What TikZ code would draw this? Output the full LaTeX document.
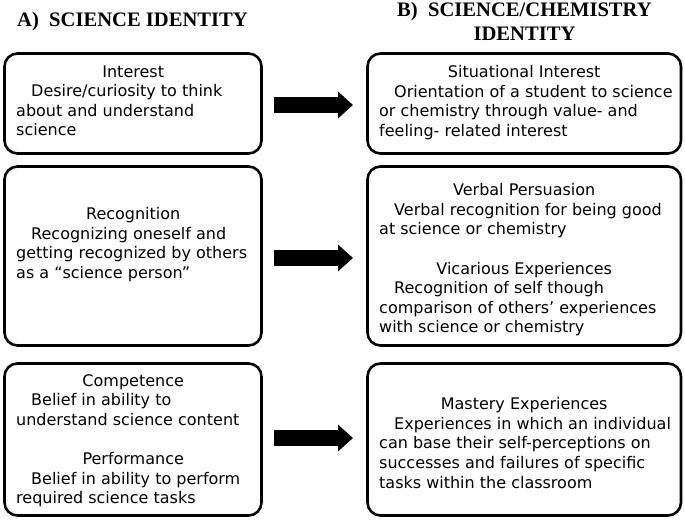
\documentclass[tikz,border=0pt]{standalone}
\usepackage{fontspec}
\setmainfont{DejaVu Sans}
\newfontfamily\titlefont{Liberation Serif}
\usetikzlibrary{arrows.meta}
\newcommand\HL[1]{\makebox[234pt][c]{#1}}
\newcommand\HR[1]{\makebox[290pt][c]{#1}}
\newcommand\IND{\hspace*{15pt}}
\tikzset{
  box/.style={draw, line width=2.6pt, rounded corners=13pt, inner sep=0pt, outer sep=0pt},
  txt/.style={inner sep=0pt, align=left, anchor=north west, font=\fontsize{16}{19.6}\selectfont},
  ttl/.style={inner sep=0pt, font=\titlefont\bfseries\fontsize{20.6}{24}\selectfont},
  bigarrow/.style={line width=16pt, -{Triangle[length=15pt,width=26pt]}, shorten <=12.5pt, shorten >=14.5pt}
}
\begin{document}
\begin{tikzpicture}[x=1pt,y=-1pt]
\useasboundingbox (0,0) rectangle (685,521);
% titles
\node[ttl, anchor=base west] (ta) at (17,27) {A)\ \ SCIENCE IDENTITY};
\node[ttl, align=center, anchor=north] (tb) at (524.5,2.4) {B)\ \ SCIENCE/CHEMISTRY\\IDENTITY};
% boxes
\node[box, minimum width=257pt, minimum height=100pt] (L1) at (133,103.5) {};
\node[box, minimum width=257pt, minimum height=179pt] (L2) at (133,256) {};
\node[box, minimum width=257pt, minimum height=152pt] (L3) at (133,439.5) {};
\node[box, minimum width=313.5pt, minimum height=100pt] (R1) at (524.25,103.5) {};
\node[box, minimum width=313.5pt, minimum height=179pt] (R2) at (524.25,256) {};
\node[box, minimum width=313.5pt, minimum height=152pt] (R3) at (524.25,439.5) {};
% texts
\node[txt] (tL1) at (16,65.3) {\HL{Interest}\\\IND Desire/curiosity to think\\about and understand\\science};
\node[txt] (tL2) at (16,207.3) {\HL{Recognition}\\\IND Recognizing oneself and\\getting recognized by others\\as a “science person”};
\node[txt] (tL3) at (16,374.3) {\HL{Competence}\\\IND Belief in ability to\\understand science content\\[19.6pt]\HL{Performance}\\\IND Belief in ability to perform\\required science tasks};
\node[txt] (tR1) at (379,65.3) {\HR{Situational Interest}\\\IND Orientation of a student to science\\or chemistry through value- and\\feeling- related interest};
\node[txt] (tR2) at (379,183.3) {\HR{Verbal Persuasion}\\\IND Verbal recognition for being good\\at science or chemistry\\[19.6pt]\HR{Vicarious Experiences}\\\IND Recognition of self though\\comparison of others’ experiences\\with science or chemistry};
\node[txt] (tR3) at (379,397.3) {\HR{Mastery Experiences}\\\IND Experiences in which an individual\\can base their self-perceptions on\\successes and failures of specific\\tasks within the classroom};
% arrows
\draw[bigarrow] ([yshift=-1.5pt]L1.east) -- ([yshift=-1.5pt]R1.west);
\draw[bigarrow] ([yshift=-2pt]L2.east) -- ([yshift=-2pt]R2.west);
\draw[bigarrow] ([yshift=1.5pt]L3.east) -- ([yshift=1.5pt]R3.west);
\end{tikzpicture}
\end{document}
